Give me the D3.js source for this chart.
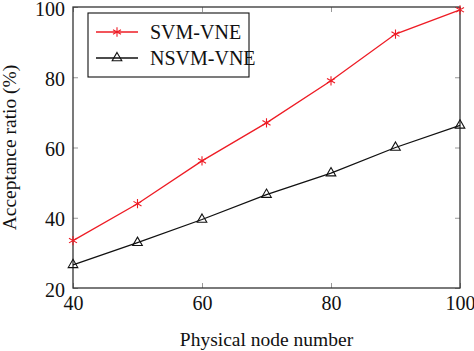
<!DOCTYPE html>
<meta charset="utf-8">
<script src="https://d3js.org/d3.v7.min.js"></script>
<style>
body { margin: 0; background: #fff; }
svg text { font-family: "Liberation Serif", "Times New Roman", serif; fill: #111; }
</style>
<div id="chart"></div>
<script>
// data
var nodeNumbers = [40, 50, 60, 70, 80, 90, 100];
var svmVne = [33.5, 44, 56.2, 67, 79, 92.3, 99.2];
var nsvmVne = [26.6, 32.9, 39.5, 46.6, 52.7, 60, 66.3];
var xTicks = [40, 60, 80, 100];
var yTicks = [20, 40, 60, 80, 100];

var W = 474, H = 351;
var margin = { top: 7, right: 14, bottom: 63, left: 73 },
    width = W - margin.left - margin.right,
    height = H - margin.top - margin.bottom;

var svg = d3.select("#chart").append("svg")
    .attr("width", W).attr("height", H);
var g = svg.append("g")
    .attr("transform", "translate(" + margin.left + "," + margin.top + ")");

var x = d3.scaleLinear().domain([40, 100]).range([0, width]);
var y = d3.scaleLinear().domain([20, 100]).range([height, 0]);

// inward ticks on all four sides
function tickStyle(sel) {
  sel.select(".domain").remove();
  sel.selectAll(".tick line").attr("stroke", "#999").attr("stroke-width", 1);
}
g.append("g").attr("transform", "translate(0," + height + ")")
  .call(d3.axisBottom(x).tickValues(xTicks).tickSizeInner(-5).tickSizeOuter(0).tickPadding(8))
  .call(tickStyle)
  .selectAll("text").attr("font-size", 20).attr("dy", "0.71em");
g.append("g")
  .call(d3.axisTop(x).tickValues(xTicks).tickSizeInner(-5).tickSizeOuter(0).tickFormat(""))
  .call(tickStyle);
g.append("g")
  .call(d3.axisLeft(y).tickValues(yTicks).tickSizeInner(-5).tickSizeOuter(0).tickPadding(8))
  .call(tickStyle)
  .selectAll("text").attr("font-size", 20).attr("dy", "0.4em");
g.append("g").attr("transform", "translate(" + width + ",0)")
  .call(d3.axisRight(y).tickValues(yTicks).tickSizeInner(-5).tickSizeOuter(0).tickFormat(""))
  .call(tickStyle);

// frame
g.append("rect").attr("width", width).attr("height", height)
  .attr("fill", "none").attr("stroke", "#333").attr("stroke-width", 1.3);

var line = d3.line().x(function(d, i) { return x(nodeNumbers[i]); }).y(function(d) { return y(d); });

var star = d3.symbol().type(d3.symbolAsterisk).size(60);
var tri = d3.symbol().type(d3.symbolTriangle).size(40);

function drawSeries(values, color, sym) {
  g.append("path").datum(values).attr("d", line)
    .attr("fill", "none").attr("stroke", color).attr("stroke-width", 1.3);
  g.selectAll(null).data(values).enter().append("path")
    .attr("d", sym)
    .attr("transform", function(d, i) { return "translate(" + x(nodeNumbers[i]) + "," + y(d) + ")"; })
    .attr("fill", "none").attr("stroke", color).attr("stroke-width", 1.1);
}
drawSeries(svmVne, "#ee1c25", star);
drawSeries(nsvmVne, "#111", tri);

// legend
var lg = svg.append("g").attr("transform", "translate(88,13)");
lg.append("rect").attr("width", 161).attr("height", 64)
  .attr("fill", "#fff").attr("stroke", "#111").attr("stroke-width", 1.1);
var legendItems = [
  { name: "SVM-VNE", color: "#ee1c25", sym: star, dy: 19 },
  { name: "NSVM-VNE", color: "#111", sym: tri, dy: 45 }
];
legendItems.forEach(function(it) {
  lg.append("line").attr("x1", 8).attr("x2", 50).attr("y1", it.dy).attr("y2", it.dy)
    .attr("stroke", it.color).attr("stroke-width", 1.3);
  lg.append("path").attr("d", it.sym).attr("transform", "translate(29," + it.dy + ")")
    .attr("fill", "none").attr("stroke", it.color).attr("stroke-width", 1.1);
  lg.append("text").attr("x", 62).attr("y", it.dy).attr("dy", "0.35em")
    .attr("font-size", 20).text(it.name);
});

// axis titles
svg.append("text").attr("x", margin.left + width / 2).attr("y", 346)
  .attr("text-anchor", "middle").attr("font-size", 19.5).text("Physical node number");
svg.append("text").attr("transform", "translate(16," + (margin.top + height / 2) + ") rotate(-90)")
  .attr("text-anchor", "middle").attr("font-size", 19.5).text("Acceptance ratio (%)");
</script>
